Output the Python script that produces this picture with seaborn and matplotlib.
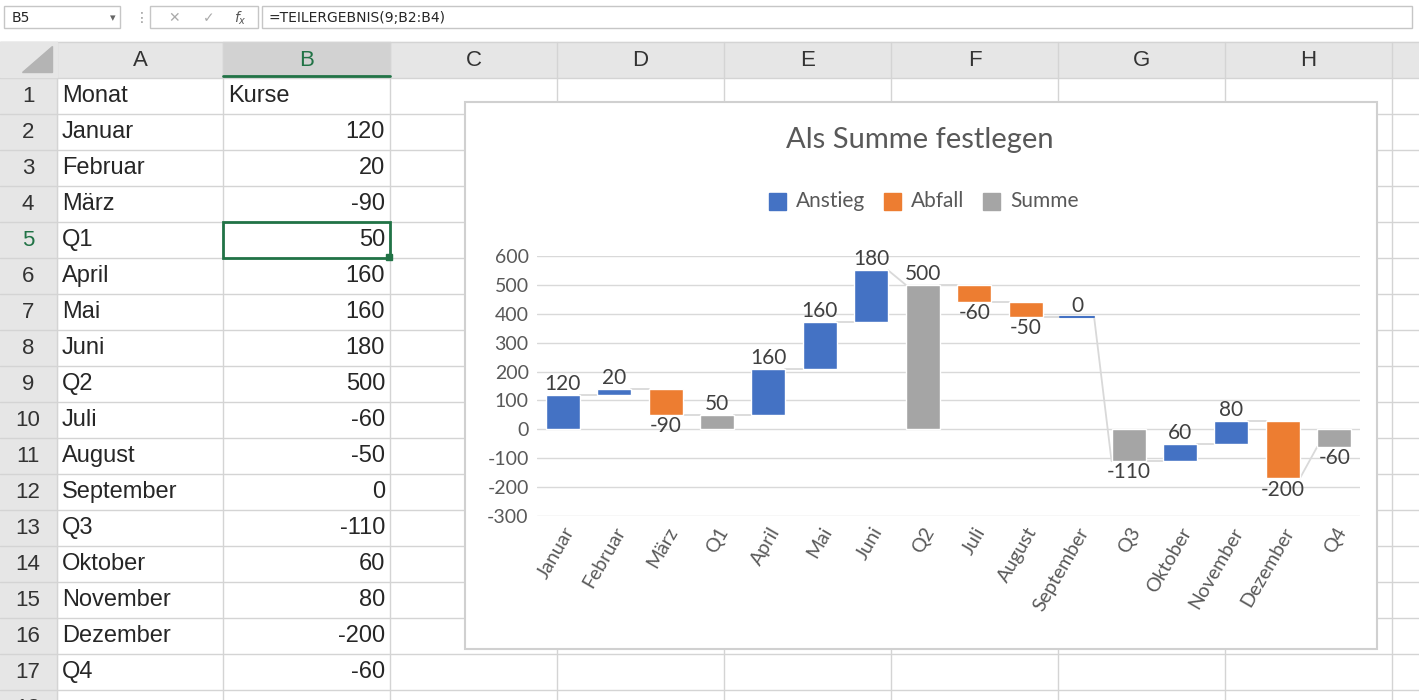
import matplotlib
matplotlib.use("Agg")
import matplotlib.pyplot as plt
import seaborn as sns
import numpy as np
from matplotlib.patches import Rectangle

sns.set_theme(style="white")
plt.rcParams['font.family'] = ['Lato', 'DejaVu Sans']

monate = ["Januar","Februar","März","Q1","April","Mai","Juni","Q2","Juli","August",
          "September","Q3","Oktober","November","Dezember","Q4"]
kurse = [120,20,-90,50,160,160,180,500,-60,-50,0,-110,60,80,-200,-60]
summe = [False,False,False,True,False,False,False,True,False,False,False,True,False,False,False,True]
col_letters = ["A","B","C","D","E","F","G","H"]
col_edges = [57,223,390,557,724,891,1058,1225,1392]
yticks = list(range(-300, 601, 100))

W, H = 1419, 700
fig = plt.figure(figsize=(W/100, H/100), dpi=100)
bg = fig.add_axes([0,0,1,1]); bg.set_xlim(0,W); bg.set_ylim(H,0); bg.axis("off")
grid = "#D4D4D4"
# formula bar
bg.add_patch(Rectangle((0,0),W,36,color="#FFFFFF",zorder=0))
bg.add_patch(Rectangle((4,6),116,22,fill=False,ec="#C6C6C6"))
bg.text(12,18,"B5",fontsize=10,va="center",family="DejaVu Sans")
bg.text(110,18,"▾",fontsize=8,va="center",color="#666")
bg.text(135,18,"⋮",fontsize=10,va="center",color="#999")
bg.add_patch(Rectangle((150,6),108,22,fill=False,ec="#C6C6C6"))
bg.add_patch(Rectangle((262,6),1150,22,fill=False,ec="#C6C6C6"))
bg.text(168,18,"✕",fontsize=10,va="center",color="#aaa",family="DejaVu Sans")
bg.text(203,18,"✓",fontsize=10,va="center",color="#aaa",family="DejaVu Sans")
bg.text(234,18,"$f_x$",fontsize=10,va="center",color="#555")
bg.text(268,18,"=TEILERGEBNIS(9;B2:B4)",fontsize=10,va="center",family="DejaVu Sans")
# header row
bg.add_patch(Rectangle((0,42),W,35,color="#E6E6E6",zorder=0))
bg.add_patch(Rectangle((0,42),57,H,color="#E6E6E6",zorder=0))
bg.add_patch(Rectangle((223,42),167,35,color="#D2D2D2",zorder=0))
bg.plot([223,390],[76,76],color="#217346",lw=2)
for i,l in enumerate(col_letters):
    bg.text((col_edges[i]+col_edges[i+1])/2,60,l,ha="center",va="center",fontsize=16,
            color="#217346" if l=="B" else "#333",family="Liberation Sans")
for x in col_edges:
    bg.plot([x,x],[42,H],color=grid,lw=1,zorder=1)
bg.plot([0,W],[42,42],color=grid,lw=1)
for r in range(18):
    y = 78+36*r
    bg.plot([0,W],[y,y],color=grid,lw=1,zorder=1)
    bg.text(28,y+18,str(r+1),ha="center",va="center",fontsize=16,
            color="#217346" if r+1==5 else "#333",family="Liberation Sans")
bg.add_patch(Rectangle((0,42),57,35,color="#E6E6E6",zorder=2))
bg.fill([22,52,52],[72,72,46],color="#B4B4B4",zorder=3)
def cell_y(r): return 78+36*(r-1)+18
bg.text(62,cell_y(1),"Monat",fontsize=17,va="center",family="Liberation Sans")
bg.text(228,cell_y(1),"Kurse",fontsize=17,va="center",family="Liberation Sans")
for i,(m,k) in enumerate(zip(monate,kurse)):
    bg.text(62,cell_y(i+2),m,fontsize=17,va="center",family="Liberation Sans")
    bg.text(385,cell_y(i+2),str(k),fontsize=17,va="center",ha="right",family="Liberation Sans")
bg.add_patch(Rectangle((223,222),167,36,fill=False,ec="#217346",lw=2,zorder=4))
bg.add_patch(Rectangle((386,254),6,6,color="#217346",zorder=5))
# chart box
bg.add_patch(Rectangle((465,102),912,547,fc="white",ec="#D0D0D0",lw=1.5,zorder=6))
bg.text(920,140,"Als Summe festlegen",ha="center",va="center",fontsize=21,color="#595959",zorder=7)
leg = [("Anstieg","#4472C4"),("Abfall","#ED7D31"),("Summe","#A5A5A5")]
lx = [769,884,983]
for (t,c),x in zip(leg,lx):
    bg.add_patch(Rectangle((x,193),17,17,color=c,zorder=7))
    bg.text(x+27,201,t,va="center",fontsize=15,color="#595959",zorder=7)

ax = fig.add_axes([537/W,1-516/H,(1360-537)/W,(516-256)/H])
ax.set_zorder(10); ax.patch.set_alpha(0)
n = len(monate)
bottoms, tops = [], []
run = 0
for k,s in zip(kurse,summe):
    if s:
        b,t = 0,k; run = k
    else:
        b,t = run, run+k; run += k
    bottoms.append(b); tops.append(t)
colors = ["#A5A5A5" if s else ("#4472C4" if k>=0 else "#ED7D31") for k,s in zip(kurse,summe)]
x = np.arange(n)
heights = [t-b for b,t in zip(bottoms,tops)]
ax.bar(x,heights,bottom=bottoms,width=0.66,color=colors,zorder=3)
for i in range(n):
    if heights[i]==0:
        ax.plot([i-0.33,i+0.33],[tops[i]]*2,color="#4472C4",lw=1.5,zorder=3)
for i in range(n-1):
    nxt = tops[i+1] if summe[i+1] else bottoms[i+1]
    ax.plot([i+0.33,i+0.67],[tops[i],nxt],color="#D9D9D9",lw=1.3,zorder=2)
for i in range(n):
    if summe[i]:
        y = tops[i]
    else:
        y = max(bottoms[i],tops[i]) if kurse[i]>=0 else min(bottoms[i],tops[i])
    va = "bottom" if kurse[i]>=0 else "top"
    ax.text(i, y+(4 if va=="bottom" else -4), str(kurse[i]), ha="center", va=va, fontsize=15, color="#404040", zorder=5)
ax.set_xlim(-0.5,n-0.5); ax.set_ylim(-300,600)
ax.set_yticks(yticks)
ax.set_yticklabels([str(v) for v in yticks],fontsize=14,color="#595959")
ax.yaxis.grid(True,color="#D9D9D9",lw=1,zorder=0)
ax.set_xticks(x)
ax.set_xticklabels(monate,rotation=60,ha="right",rotation_mode="anchor",fontsize=14,color="#595959")
ax.tick_params(axis="both",length=0,pad=6)
for s in ax.spines.values(): s.set_visible(False)
fig.savefig("out.png",dpi=100)
